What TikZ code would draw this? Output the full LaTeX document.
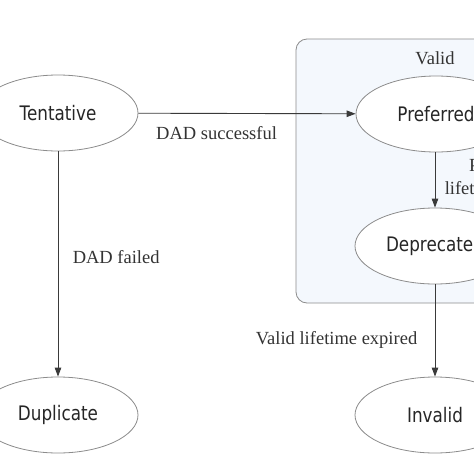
\documentclass[tikz,border=0pt]{standalone}
\usepackage{fontspec}
\setmainfont{Liberation Serif}
\newfontfamily\statefont[FakeStretch=0.84]{DejaVu Sans}
\usetikzlibrary{shapes.geometric,arrows.meta}

\definecolor{validfill}{HTML}{F4F8FD}
\definecolor{rimgray}{HTML}{8C8C8C}
\definecolor{arrowgray}{HTML}{3A3A3A}

\tikzset{
  state/.style={ellipse, draw=rimgray, fill=white, line width=0.8pt,
    minimum width=160pt, minimum height=76pt, inner sep=0pt,
    font=\statefont\fontsize{20}{24}\selectfont, text=black!85},
  trans/.style={-{Triangle[length=9pt,width=6.5pt]}, draw=arrowgray, line width=0.9pt},
  edgelabel/.style={font=\fontsize{18.5}{23}\selectfont, text=black!80}
}

\begin{document}
\begin{tikzpicture}[x=1pt,y=-1pt]

\useasboundingbox (0,0) rectangle (474,474);

\draw[rimgray, line width=0.8pt, fill=validfill, rounded corners=11pt]
(296,39) rectangle (500,303);
\node[edgelabel] (validlbl) at (435,58) {Valid};

\node[state] (tentative) at (58,113) {Tentative};
\node[state] (duplicate) at (58,415) {Duplicate};
\node[state] (preferred) at (436,114) {Preferred};
\node[state] (deprecated) at (435,246) {Deprecated};
\node[state] (invalid) at (435,415) {Invalid};

\draw[trans] (tentative) -- (preferred)
node[edgelabel, pos=0.36, yshift=-20pt] {DAD successful};

\draw[trans] (tentative) -- (duplicate)
node[edgelabel, pos=0.47, anchor=west, xshift=11pt] {DAD failed};

\draw[trans] (preferred.south -| deprecated) -- (deprecated)
node[edgelabel, pos=0.47, anchor=west, xshift=6pt, align=center] {Preferred\\lifetime expired};

\draw[trans] (deprecated) -- (invalid)
node[edgelabel, pos=0.6, anchor=east, xshift=-14pt] {Valid lifetime expired};

\end{tikzpicture}
\end{document}
